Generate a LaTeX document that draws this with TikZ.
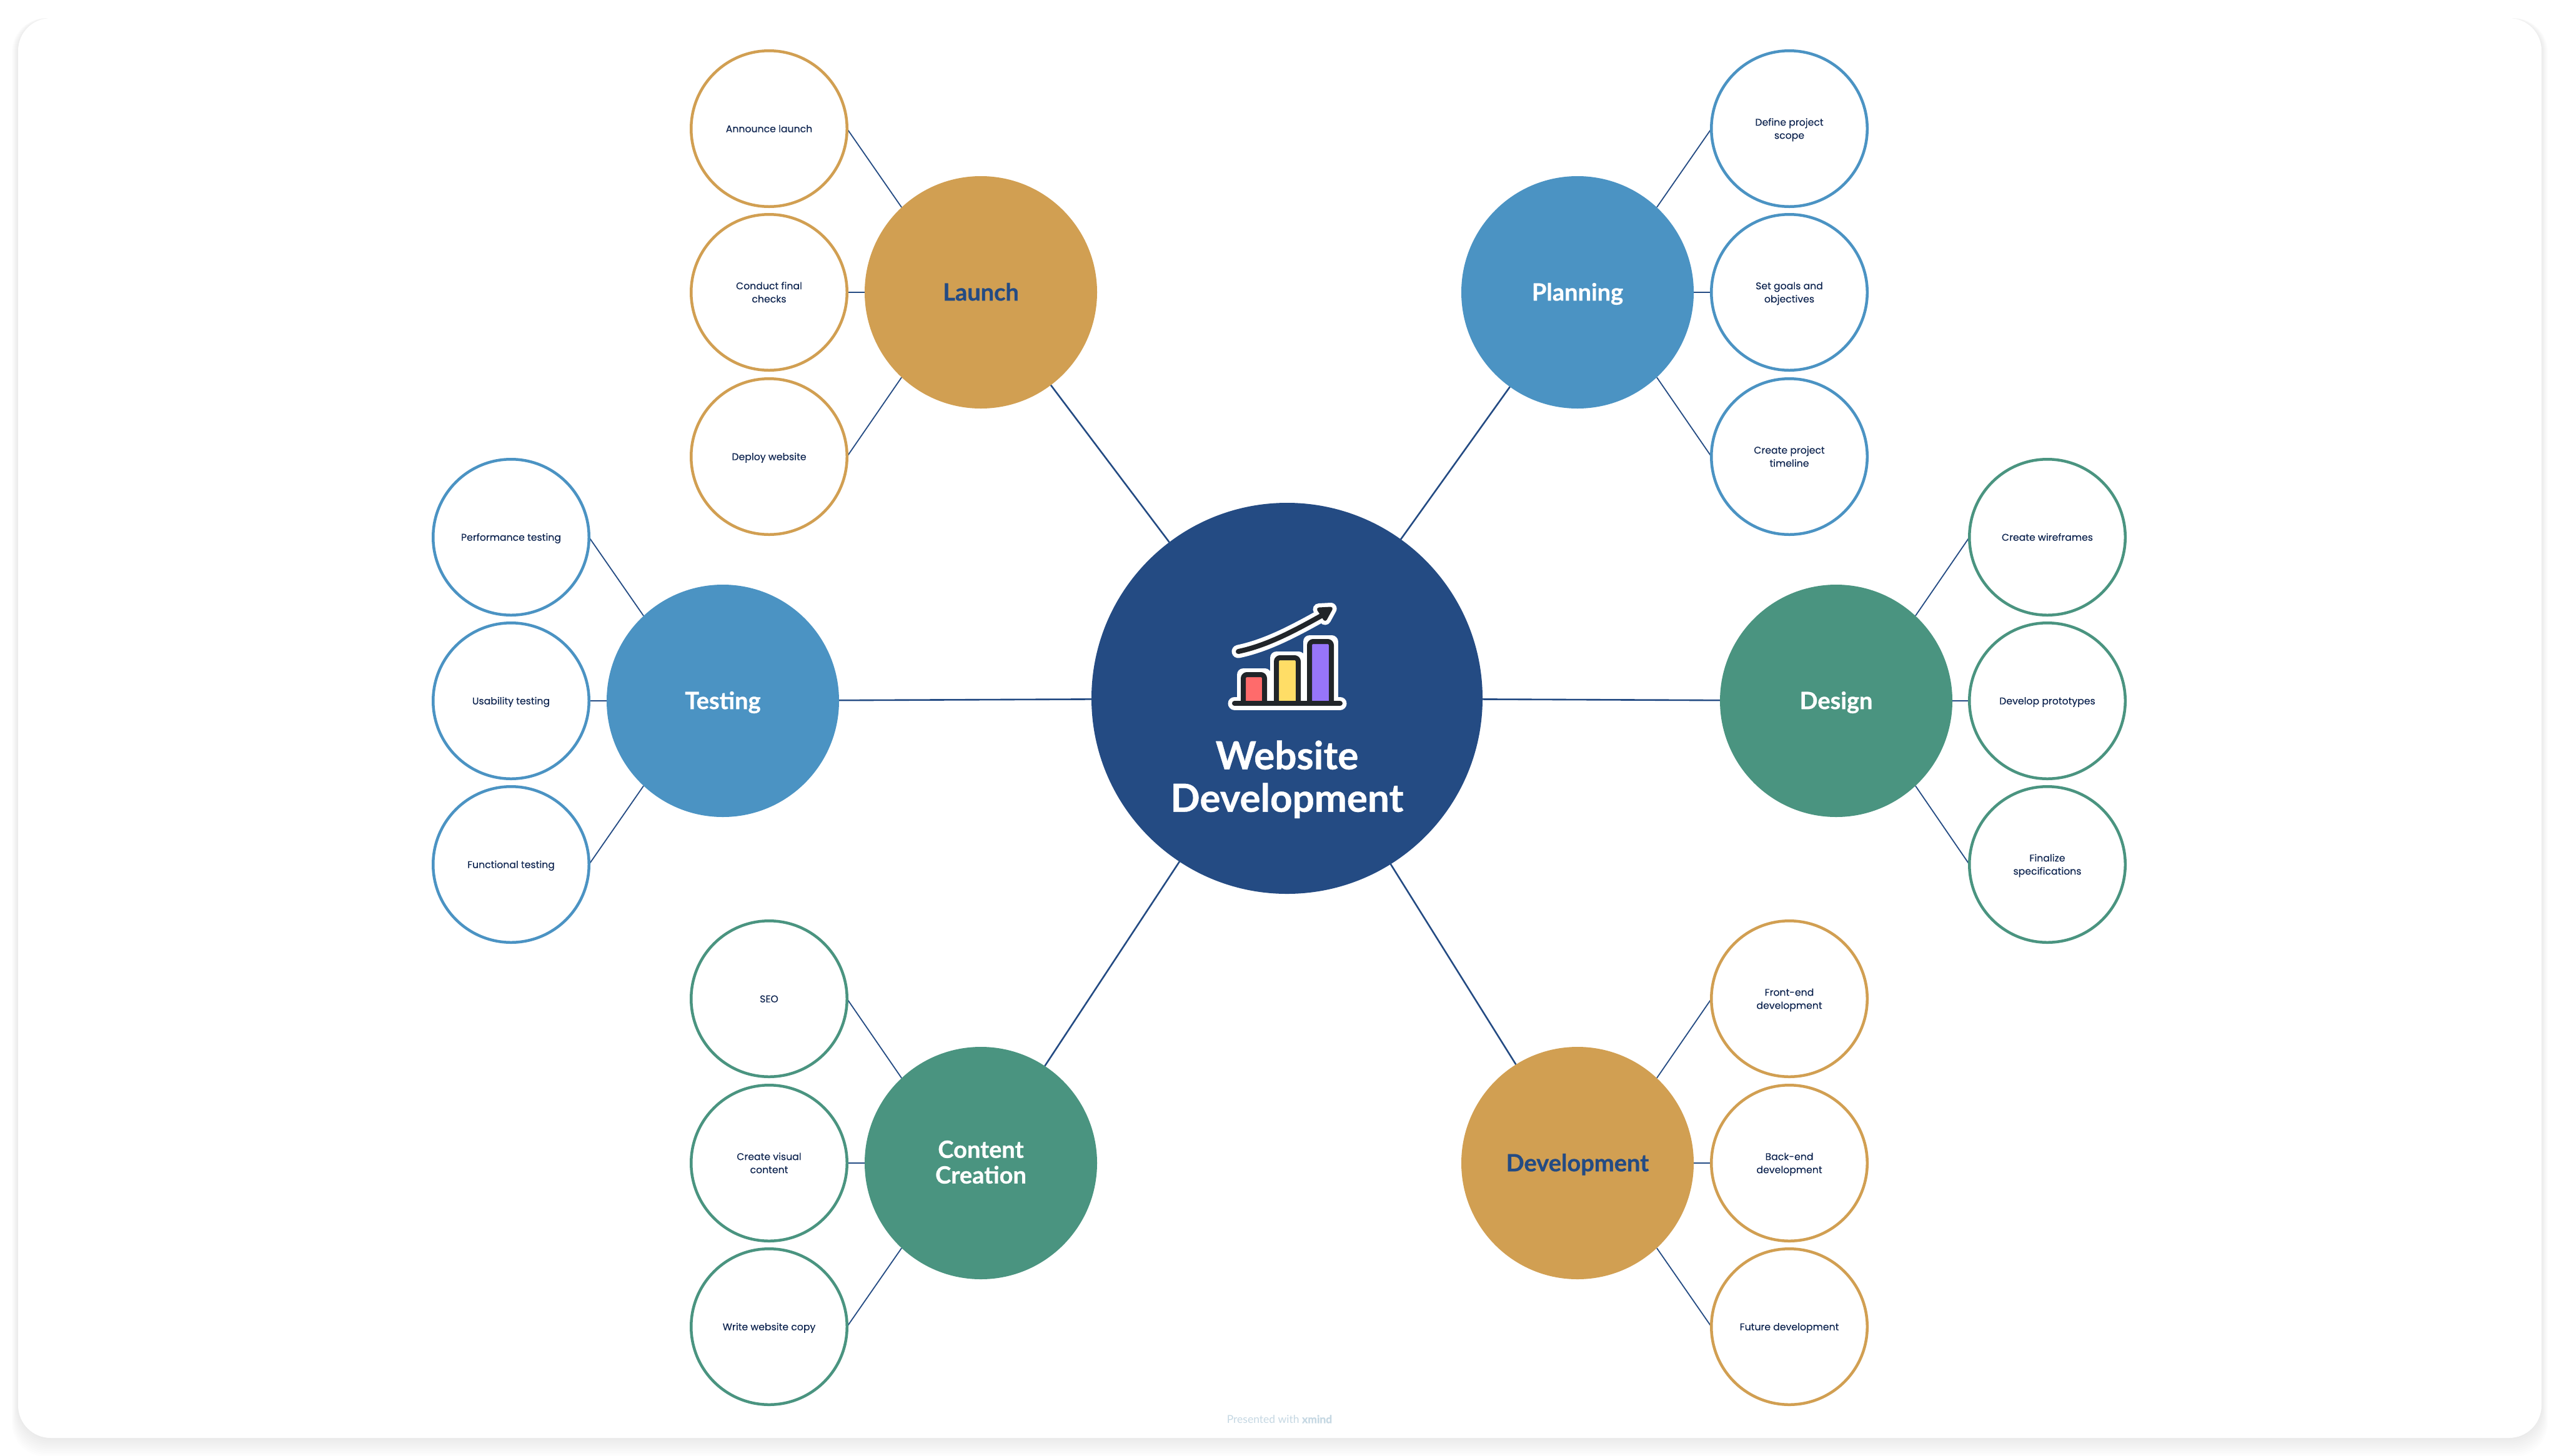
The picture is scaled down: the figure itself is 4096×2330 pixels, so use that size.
\documentclass[tikz,border=0pt]{standalone}
\usepackage{fontspec}
\setmainfont{Lato}[BoldFeatures={FakeBold=0.7}]
\newfontfamily\leaffont{Poppins}[FakeBold=0.25]
\definecolor{navy}{HTML}{244B83}
\definecolor{inkblue}{HTML}{0F2550}
\definecolor{skyc}{HTML}{4B93C3}
\definecolor{tealc}{HTML}{4A9480}
\definecolor{goldc}{HTML}{D19F52}
\definecolor{icondark}{HTML}{212529}
\definecolor{credit}{HTML}{C6D8E3}
\definecolor{barred}{HTML}{FF6B6B}
\definecolor{baryellow}{HTML}{FFDD66}
\definecolor{barviolet}{HTML}{9775FA}
\pgfdeclarelayer{under}
\pgfsetlayers{under,main}
\newcommand\lbl[2][1.5]{\raisebox{-#1pt}[\height][\depth]{\begin{tabular}{@{}c@{}}#2\end{tabular}}}
\newcommand\tlbl[1]{\lbl[5]{#1}}
\tikzset{
  x=1pt,y=-1pt,
  hubnode/.style={circle,fill=navy,minimum size=626pt,inner sep=0pt,outer sep=0pt},
  topic/.style={circle,fill=#1,minimum size=372pt,inner sep=0pt,outer sep=0pt,font=\fontsize{38}{41}\selectfont\bfseries},
  leaf/.style={circle,draw=#1,line width=4.5pt,fill=white,minimum size=249.5pt,inner sep=0pt,outer sep=0pt,text=inkblue,font=\leaffont\fontsize{15.7}{21}\selectfont},
  mainlink/.style={draw=navy,line width=2.6pt},
  leaflink/.style={draw=navy,line width=1.8pt},
  halo/.style={draw=white,line width=21pt,line cap=round,line join=round},
  ink/.style={draw=icondark,line width=8pt,line cap=round,line join=round},
}
\begin{document}
\begin{tikzpicture}
\useasboundingbox (0,0) rectangle (4096,2330);
\begin{pgfonlayer}{under}
\fill[white] (0,0) rectangle (4096,2330);
\foreach \g in {1,...,10}{
  \fill[black,fill opacity=0.009,rounded corners=54pt] (29-\g,29) rectangle (4068+\g,2302+3*\g);
}
\fill[white,rounded corners=52pt] (29,29) rectangle (4068,2302);
\end{pgfonlayer}

\node[hubnode] (hub) at (2060,1118) {};
\node[text=white,font=\fontsize{62}{68}\selectfont\bfseries] (hubtext) at (2060,1252) {\lbl[0]{Website\\Development}};

\node[topic=skyc,text=white] (planning) at (2525,468) {\tlbl{Planning}};
\node[topic=tealc,text=white] (design) at (2939,1122) {\tlbl{Design}};
\node[topic=goldc,text=navy] (development) at (2525,1862) {\tlbl{Development}};
\node[topic=tealc,text=white] (content) at (1570,1862) {\lbl[4]{Content\\Creation}};
\node[topic=skyc,text=white] (testing) at (1157,1122) {\tlbl{Testing}};
\node[topic=goldc,text=navy] (launch) at (1570,468) {\tlbl{Launch}};

\node[leaf=skyc] (p1) at (2864,206) {\lbl{Define project\\scope}};
\node[leaf=skyc] (p2) at (2864,468) {\lbl{Set goals and\\objectives}};
\node[leaf=skyc] (p3) at (2864,731) {\lbl{Create project\\timeline}};
\node[leaf=tealc] (d1) at (3277,860) {\lbl{Create wireframes}};
\node[leaf=tealc] (d2) at (3277,1122) {\lbl{Develop prototypes}};
\node[leaf=tealc] (d3) at (3277,1384) {\lbl{Finalize\\specifications}};
\node[leaf=goldc] (v1) at (2864,1599) {\lbl{Front-end\\development}};
\node[leaf=goldc] (v2) at (2864,1862) {\lbl{Back-end\\development}};
\node[leaf=goldc] (v3) at (2864,2124) {\lbl{Future development}};
\node[leaf=tealc] (c1) at (1231,1599) {\lbl{SEO}};
\node[leaf=tealc] (c2) at (1231,1862) {\lbl{Create visual\\content}};
\node[leaf=tealc] (c3) at (1231,2124) {\lbl{Write website copy}};
\node[leaf=skyc] (t1) at (818,860) {\lbl{Performance testing}};
\node[leaf=skyc] (t2) at (818,1122) {\lbl{Usability testing}};
\node[leaf=skyc] (t3) at (818,1384) {\lbl{Functional testing}};
\node[leaf=goldc] (l1) at (1231,206) {\lbl{Announce launch}};
\node[leaf=goldc] (l2) at (1231,468) {\lbl{Conduct final\\checks}};
\node[leaf=goldc] (l3) at (1231,731) {\lbl{Deploy website}};

\node[text=credit,font=\fontsize{17.5}{20}\selectfont] (creditline) at (2048,2272) {Presented with \textbf{xmind}};

\begin{pgfonlayer}{under}
\foreach \t in {planning,design,development,content,testing,launch}{
  \draw[mainlink] (hub) -- (\t);
}
\foreach \t/\a/\b/\c in {planning/p1/p2/p3,design/d1/d2/d3,development/v1/v2/v3}{
  \draw[leaflink] (\t.47) -- (\a.west);
  \draw[leaflink] (\t.east) -- (\b.west);
  \draw[leaflink] (\t.-47) -- (\c.west);
}
\foreach \t/\a/\b/\c in {content/c1/c2/c3,testing/t1/t2/t3,launch/l1/l2/l3}{
  \draw[leaflink] (\t.133) -- (\a.east);
  \draw[leaflink] (\t.west) -- (\b.east);
  \draw[leaflink] (\t.-133) -- (\c.east);
}
\end{pgfonlayer}

% icon
\draw[halo] (1982,1043) .. controls (2030,1033) and (2075,1008) .. (2120,983);
\draw[halo,line width=19pt,fill=white] (2111,975.5) -- (2130,974.5) -- (2121,991) -- cycle;
\draw[halo] (1976,1126) -- (2145,1126);
\draw[halo] (1990,1126) -- (1990,1080) -- (2024,1080) -- (2024,1126);
\draw[halo] (2043,1126) -- (2043,1053) -- (2078,1053) -- (2078,1126);
\draw[halo] (2096,1126) -- (2096,1027) -- (2131,1027) -- (2131,1126);
\draw[ink] (1982,1043) .. controls (2030,1033) and (2075,1008) .. (2120,983);
\draw[ink,line width=6pt,fill=icondark] (2111,975.5) -- (2130,974.5) -- (2121,991) -- cycle;
\draw[ink,fill=barred,rounded corners=6pt] (1990,1126) -- (1990,1080) -- (2024,1080) -- (2024,1126);
\draw[ink,fill=baryellow,rounded corners=6pt] (2043,1126) -- (2043,1053) -- (2078,1053) -- (2078,1126);
\draw[ink,fill=barviolet,rounded corners=6pt] (2096,1126) -- (2096,1027) -- (2131,1027) -- (2131,1126);
\draw[ink] (1976,1126) -- (2145,1126);
\end{tikzpicture}
\end{document}
